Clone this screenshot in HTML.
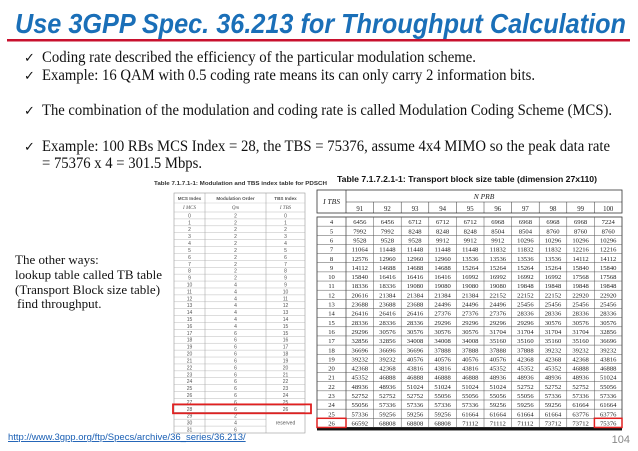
<!DOCTYPE html>
<html><head><meta charset="utf-8"><style>
html,body{margin:0;padding:0;background:#fff;width:638px;height:451px;overflow:hidden}
svg{display:block}
.ser{font-family:"Liberation Serif",serif}
.sans{font-family:"Liberation Sans",sans-serif}
</style></head><body>
<svg id="s" width="638" height="451" viewBox="0 0 638 451" xmlns="http://www.w3.org/2000/svg">
<text x="15" y="33" textLength="611" lengthAdjust="spacingAndGlyphs" class="sans" font-size="28" font-weight="bold" font-style="italic" fill="#1a6fb8">Use 3GPP Spec. 36.213 for Throughput Calculation</text>
<rect x="7" y="39" width="623" height="2.5" fill="#c8102e"/>
<g class="ser" font-size="16" fill="#111">
<text x="24" y="62" font-size="13">✓</text>
<text x="42" y="62" textLength="434" lengthAdjust="spacingAndGlyphs">Coding rate described the efficiency of the particular modulation scheme.</text>
<text x="24" y="80" font-size="13">✓</text>
<text x="42" y="80" textLength="493" lengthAdjust="spacingAndGlyphs">Example: 16 QAM with 0.5 coding rate means its can only carry 2 information bits.</text>
<text x="24" y="115" font-size="13">✓</text>
<text x="42" y="115" textLength="570" lengthAdjust="spacingAndGlyphs">The combination of the modulation and coding rate is called Modulation Coding Scheme (MCS).</text>
<text x="24" y="151" font-size="13">✓</text>
<text x="42" y="151" textLength="568" lengthAdjust="spacingAndGlyphs">Example: 100 RBs MCS Index = 28, the TBS = 75376, assume 4x4 MIMO so the peak data rate</text>
<text x="42" y="168" textLength="160" lengthAdjust="spacingAndGlyphs">= 75376 x 4 = 301.5 Mbps.</text>
</g>
<g class="ser" font-size="13" fill="#111">
<text x="15" y="264">The other ways:</text>
<text x="15" y="279">lookup table called TB table</text>
<text x="15" y="294">(Transport Block size table)</text>
<text x="17" y="308"> find throughput.</text>
</g>
<text x="8" y="440" class="sans" font-size="9.5" fill="#1a5fb4" text-decoration="underline">http://www.3gpp.org/ftp/Specs/archive/36_series/36.213/</text>
<text x="630" y="443" text-anchor="end" class="sans" font-size="11" fill="#888">104</text>
<text x="154" y="185" textLength="173" lengthAdjust="spacingAndGlyphs" class="sans" font-size="5.5" font-weight="bold" fill="#333">Table 7.1.7.1-1: Modulation and TBS index table for PDSCH</text>
<text x="337" y="182" textLength="260" lengthAdjust="spacingAndGlyphs" class="sans" font-size="8.2" font-weight="bold" fill="#111">Table 7.1.7.2.1-1: Transport block size table (dimension 27x110)</text>
<g id="mcs"></g>
<g id="tbs"></g>
</svg>
<script>
const mcsModOrder=[2,2,2,2,2,2,2,2,2,2,4,4,4,4,4,4,4,6,6,6,6,6,6,6,6,6,6,6,6,2,4,6];
const mcsTbsIndex=[0,1,2,3,4,5,6,7,8,9,9,10,11,12,13,14,15,15,16,17,18,19,20,21,22,23,24,25,26];
const nprbLabels=[91,92,93,94,95,96,97,98,99,100];
const tbsIndices=[4,5,6,7,8,9,10,11,12,13,14,15,16,17,18,19,20,21,22,23,24,25,26];
const tbsValues=[
[6456,6456,6712,6712,6712,6968,6968,6968,6968,7224],
[7992,7992,8248,8248,8248,8504,8504,8760,8760,8760],
[9528,9528,9528,9912,9912,9912,10296,10296,10296,10296],
[11064,11448,11448,11448,11448,11832,11832,11832,12216,12216],
[12576,12960,12960,12960,13536,13536,13536,13536,14112,14112],
[14112,14688,14688,14688,15264,15264,15264,15264,15840,15840],
[15840,16416,16416,16416,16992,16992,16992,16992,17568,17568],
[18336,18336,19080,19080,19080,19080,19848,19848,19848,19848],
[20616,21384,21384,21384,21384,22152,22152,22152,22920,22920],
[23688,23688,23688,24496,24496,24496,25456,25456,25456,25456],
[26416,26416,26416,27376,27376,27376,28336,28336,28336,28336],
[28336,28336,28336,29296,29296,29296,29296,30576,30576,30576],
[29296,30576,30576,30576,30576,31704,31704,31704,31704,32856],
[32856,32856,34008,34008,34008,35160,35160,35160,35160,36696],
[36696,36696,36696,37888,37888,37888,37888,39232,39232,39232],
[39232,39232,40576,40576,40576,40576,42368,42368,42368,43816],
[42368,42368,43816,43816,43816,45352,45352,45352,46888,46888],
[45352,46888,46888,46888,46888,48936,48936,48936,48936,51024],
[48936,48936,51024,51024,51024,51024,52752,52752,52752,55056],
[52752,52752,52752,55056,55056,55056,55056,57336,57336,57336],
[55056,57336,57336,57336,57336,59256,59256,59256,61664,61664],
[57336,59256,59256,59256,61664,61664,61664,61664,63776,63776],
[66592,68808,68808,68808,71112,71112,71112,73712,73712,75376]];
const NS='http://www.w3.org/2000/svg';
function mk(parent,tag,at,txt){const e=document.createElementNS(NS,tag);for(const k in at)e.setAttribute(k,at[k]);if(txt!==undefined)e.textContent=txt;parent.appendChild(e);return e;}
const m=document.getElementById('mcs');
const mx=[174,205,266,305], my0=193, rh=(433-212)/32;
mk(m,'rect',{x:mx[0],y:my0,width:mx[3]-mx[0],height:433-my0,fill:'#fff',stroke:'#999','stroke-width':0.6});
[['MCS Index','I MCS'],['Modulation Order','Qm'],['TBS Index','I TBS']].forEach((h,i)=>{
 const t=mk(m,'text',{x:(mx[i]+mx[i+1])/2,y:my0+7,'text-anchor':'middle','font-size':4.6,'font-weight':'bold',fill:'#555','font-family':'Liberation Sans,sans-serif'},h[0]);
 
 
 mk(m,'text',{x:(mx[i]+mx[i+1])/2,y:my0+16,'text-anchor':'middle','font-size':5,'font-style':'italic',fill:'#555','font-family':'Liberation Serif,serif'},h[1]);
});
mk(m,'line',{x1:mx[0],x2:mx[3],y1:my0+10,y2:my0+10,stroke:'#bbb','stroke-width':0.4});
for(let i=1;i<3;i++)mk(m,'line',{x1:mx[i],x2:mx[i],y1:my0,y2:433,stroke:'#999','stroke-width':0.5});
for(let r=0;r<32;r++){
 const y=212+r*rh;
 mk(m,'line',{x1:mx[0],x2:(r>29?mx[2]:mx[3]),y1:y,y2:y,stroke:'#aaa','stroke-width':0.4});
 const g=mk(m,'g',{'font-size':5,fill:'#555','font-family':'Liberation Sans,sans-serif','text-anchor':'middle'});
 
 
 mk(g,'text',{x:(mx[0]+mx[1])/2,y:y+rh-1.5},String(r));
 mk(g,'text',{x:(mx[1]+mx[2])/2,y:y+rh-1.5},String(mcsModOrder[r]));
 if(r<mcsTbsIndex.length)mk(g,'text',{x:(mx[2]+mx[3])/2,y:y+rh-1.5},String(mcsTbsIndex[r]));
}
mk(m,'text',{x:(mx[2]+mx[3])/2,y:212+30.5*rh+2,'text-anchor':'middle','font-size':5,fill:'#555','font-family':'Liberation Sans,sans-serif'},'reserved');
const hl=mk(m,'rect',{x:173,y:212+28*rh-1,width:138,height:rh+2,fill:'none',stroke:'#e02020','stroke-width':1.8});


const t=document.getElementById('tbs');
const tx0=317, tx1=346, tx2=622, cw=(tx2-tx1)/10, ty0=190, trow0=217, trh=9.15;
const tyEnd=trow0+tbsIndices.length*trh;
mk(t,'rect',{x:tx0,y:ty0,width:tx2-tx0,height:23,fill:'#fff',stroke:'#333','stroke-width':0.8});
mk(t,'line',{x1:tx1,x2:tx1,y1:ty0,y2:ty0+23,stroke:'#333','stroke-width':0.7});
mk(t,'line',{x1:tx1,x2:tx2,y1:ty0+12,y2:ty0+12,stroke:'#333','stroke-width':0.6});
mk(t,'text',{x:(tx0+tx1)/2,y:ty0+14,'text-anchor':'middle','font-size':7.5,'font-style':'italic',fill:'#222','font-family':'Liberation Serif,serif'},'I TBS');
mk(t,'text',{x:(tx1+tx2)/2,y:ty0+9,'text-anchor':'middle','font-size':7.5,'font-style':'italic',fill:'#222','font-family':'Liberation Serif,serif'},'N PRB');
nprbLabels.forEach((n,i)=>{
 const x=tx1+i*cw;
 if(i>0)mk(t,'line',{x1:x,x2:x,y1:ty0+12,y2:ty0+23,stroke:'#333','stroke-width':0.5});
 const e=mk(t,'text',{x:x+cw/2,y:ty0+21,'text-anchor':'middle','font-size':6.8,fill:'#222','font-family':'Liberation Serif,serif'},String(n));
 
 
});
mk(t,'rect',{x:tx0,y:trow0,width:tx2-tx0,height:tyEnd-trow0,fill:'#fff',stroke:'#333','stroke-width':0.8});
tbsIndices.forEach((idx,r)=>{
 const y=trow0+r*trh;
 mk(t,'line',{x1:tx0,x2:tx2,y1:y,y2:y,stroke:'#555','stroke-width':0.5});
 const g=mk(t,'g',{'font-size':6.6,fill:'#222','font-family':'Liberation Serif,serif','text-anchor':'middle'});
 
 
 mk(g,'text',{x:(tx0+tx1)/2,y:y+trh-2},String(idx));
 tbsValues[r].forEach((v,c)=>mk(g,'text',{x:tx1+c*cw+cw/2,y:y+trh-2},String(v)));
});
for(let i=0;i<=10;i++)mk(t,'line',{x1:tx1+i*cw,x2:tx1+i*cw,y1:trow0,y2:tyEnd,stroke:'#555','stroke-width':i==0?0.8:0.5});
mk(t,'rect',{x:tx0,y:tyEnd,width:tx2-tx0,height:3,fill:'#111'});
const lr=trow0+(tbsIndices.length-1)*trh;
const h1=mk(t,'rect',{x:tx0,y:lr,width:tx1-tx0,height:trh,fill:'none',stroke:'#e02020','stroke-width':1.5});


const h2=mk(t,'rect',{x:tx1+9*cw,y:lr,width:cw,height:trh,fill:'none',stroke:'#e02020','stroke-width':1.5});


</script>
</body></html>
